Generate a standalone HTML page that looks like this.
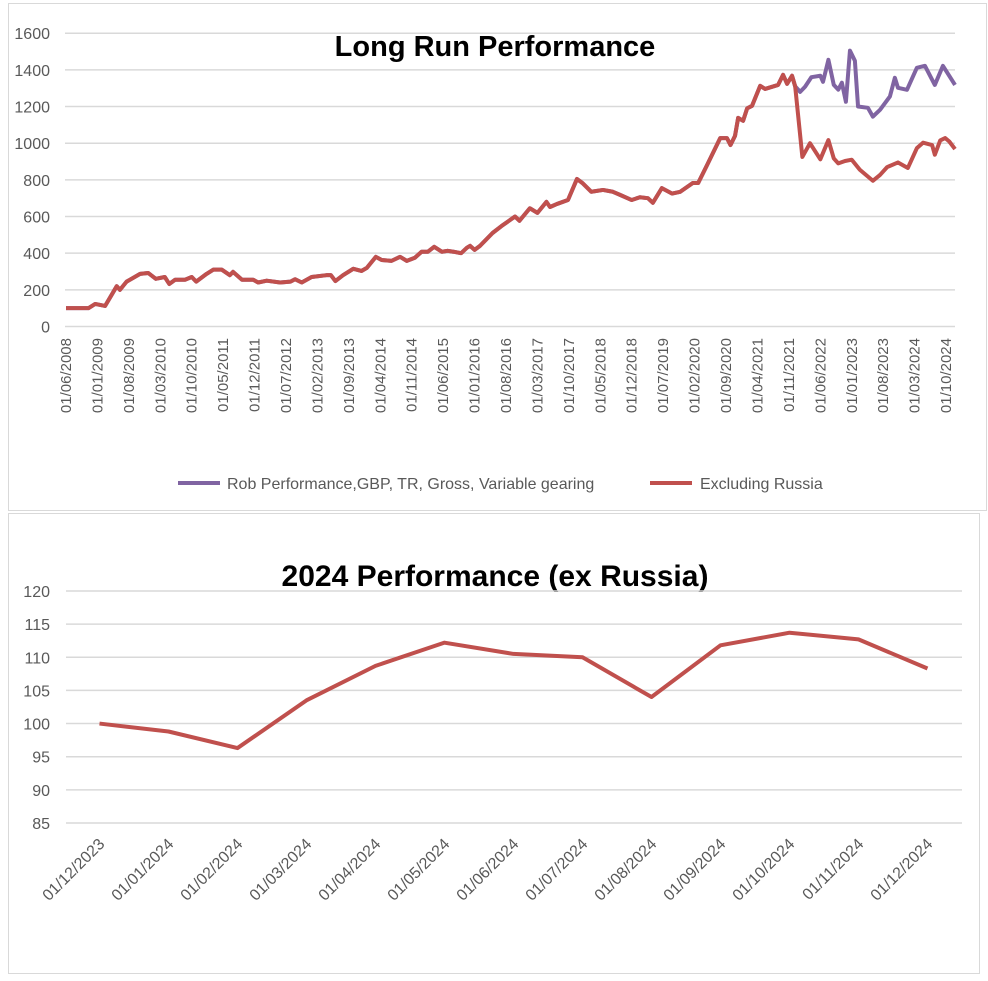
<!DOCTYPE html>
<html><head><meta charset="utf-8"><style>
body{margin:0;background:#fff;width:988px;height:981px;overflow:hidden;font-family:"Liberation Sans",sans-serif}
svg{position:absolute;left:0;top:0}
</style></head><body>
<svg id="c" width="988" height="981" xmlns="http://www.w3.org/2000/svg">
<rect x="8.5" y="3.5" width="978" height="507" fill="#fff" stroke="#d9d9d9"/>
<rect x="8.5" y="513.5" width="971" height="460" fill="#fff" stroke="#d9d9d9"/>
<text x="495" y="56" text-anchor="middle" font-size="29" font-weight="bold" fill="#000">Long Run Performance</text>
<text x="495" y="586" text-anchor="middle" font-size="30" font-weight="bold" fill="#000">2024 Performance (ex Russia)</text>
<g id="g1"></g><g id="g2"></g>
<line x1="178" y1="483" x2="220" y2="483" stroke="#8064a2" stroke-width="4"/>
<text x="227" y="489" font-size="16" fill="#595959">Rob Performance,GBP, TR, Gross, Variable gearing</text>
<line x1="650" y1="483" x2="692" y2="483" stroke="#c0504d" stroke-width="4"/>
<text x="700" y="489" font-size="16" fill="#595959">Excluding Russia</text>
</svg>
<script>
// Top chart data (month index from 01/06/2008)
const topTicks=[0,200,400,600,800,1000,1200,1400,1600];
const topLabels=["01/06/2008","01/01/2009","01/08/2009","01/03/2010","01/10/2010","01/05/2011","01/12/2011","01/07/2012","01/02/2013","01/09/2013","01/04/2014","01/11/2014","01/06/2015","01/01/2016","01/08/2016","01/03/2017","01/10/2017","01/05/2018","01/12/2018","01/07/2019","01/02/2020","01/09/2020","01/04/2021","01/11/2021","01/06/2022","01/01/2023","01/08/2023","01/03/2024","01/10/2024"];
const redMonths=[0,5,6.5,8.7,11.3,12,13.5,16.5,18.3,20,22,23,24.3,26.5,28,29,31.3,32.8,34.7,36.5,37.2,39.2,41.7,42.8,44.7,47.7,50,51,52.5,54.7,58,59,60,61.7,64,65.8,67,69,70.3,72.5,74.4,75.9,77.7,79.2,80.6,82,83.7,85,86.3,88,89.3,90,91,92.2,95,97,100,101,103.3,105,107,107.8,109.3,111.8,113.8,115,117,119.6,121.8,123.4,126,127.8,129.6,130.7,132.7,135,136.8,139.6,140.8,142.8,145.7,147.2,148,149,149.7,150.8,151.7,152.8,154.6,155.7,158.6,159.7,160.6,161.7,162.4,164,165.7,168,169.8,171,172,173.5,175,176.8,179.7,181.3,182.9,185.3,187.5,189.5,190.9,192.9,193.5,194.7,195.8,196.7,198];
const redValues=[100,100,123,112,220,200,245,287,292,260,270,232,255,255,270,245,287,310,310,280,298,255,255,240,250,240,245,258,240,270,280,280,248,280,315,303,320,380,363,358,380,358,375,408,408,435,408,413,408,400,430,440,418,440,510,548,600,577,645,620,680,652,668,690,805,783,735,745,735,718,690,705,700,675,755,725,735,783,783,882,1028,1028,990,1040,1138,1122,1190,1204,1313,1296,1318,1373,1324,1368,1310,925,1000,912,1017,917,890,903,910,855,795,827,870,895,865,973,1003,990,937,1015,1028,1010,968];
const purpleMonths=[162.4,163.5,164.6,166,168,168.6,169.8,171,172,172.8,173.7,174.6,175.7,176.4,178.6,179.7,181.3,183.5,184.6,185.3,187.3,189.5,191.3,193.5,195.3,198];
const purpleValues=[1310,1280,1308,1360,1368,1335,1455,1318,1292,1330,1226,1505,1450,1200,1193,1145,1182,1255,1357,1302,1291,1411,1422,1318,1422,1318];
// Bottom chart data
const botCats=["01/12/2023","01/01/2024","01/02/2024","01/03/2024","01/04/2024","01/05/2024","01/06/2024","01/07/2024","01/08/2024","01/09/2024","01/10/2024","01/11/2024","01/12/2024"];
const botValues=[100,98.8,96.3,103.5,108.7,112.2,110.5,110,104,111.8,113.7,112.7,108.3];
const botTicks=[85,90,95,100,105,110,115,120];

const NS="http://www.w3.org/2000/svg";
function mk(p,t,a){const e=document.createElementNS(NS,t);for(const k in a)e.setAttribute(k,a[k]);p.appendChild(e);return e;}
const g1=document.getElementById('g1'),g2=document.getElementById('g2');
const x1=m=>66+m*4.49, y1=v=>326.5-v*0.1833;
topTicks.forEach(t=>{
 const l=mk(g1,'line',{x1:65,x2:955,y1:y1(t),y2:y1(t),stroke:'#d9d9d9','stroke-width':1.5});
 
 
 const tx=mk(g1,'text',{x:50,y:y1(t)+6,'text-anchor':'end','font-size':16,fill:'#595959'});tx.textContent=t;
 
 
});
topLabels.forEach((s,i)=>{
 const x=x1(i*7)+5;
 const tx=mk(g1,'text',{x:x,y:338,'text-anchor':'end','font-size':15,fill:'#595959',transform:`rotate(-90 ${x} 338)`});tx.textContent=s;
 
 
});
const pm=redMonths.filter(m=>m<=162.4).concat(purpleMonths.slice(1));
const pv=redValues.slice(0,pm.length-purpleMonths.length+1).concat(purpleValues.slice(1));
const pp=mk(g1,'polyline',{points:pm.map((m,i)=>x1(m)+','+y1(pv[i])).join(' '),fill:'none',stroke:'#8064a2','stroke-width':4,'stroke-linejoin':'round'});


const rp=mk(g1,'polyline',{points:redMonths.map((m,i)=>x1(m)+','+y1(redValues[i])).join(' '),fill:'none',stroke:'#c0504d','stroke-width':4,'stroke-linejoin':'round'});


const x2=i=>99.5+i*69, y2=v=>823-(v-85)*6.63;
botTicks.forEach(t=>{
 const l=mk(g2,'line',{x1:66,x2:962,y1:y2(t),y2:y2(t),stroke:'#d9d9d9','stroke-width':1.5});
 
 
 const tx=mk(g2,'text',{x:50,y:y2(t)+6,'text-anchor':'end','font-size':16,fill:'#595959'});tx.textContent=t;
 
 
});
botCats.forEach((s,i)=>{
 const x=x2(i)+6,y=845;
 const tx=mk(g2,'text',{x:x,y:y,'text-anchor':'end','font-size':16,fill:'#595959',transform:`rotate(-45 ${x} ${y})`});tx.textContent=s;
 
 
});
const bp=mk(g2,'polyline',{points:botValues.map((v,i)=>x2(i)+','+y2(v)).join(' '),fill:'none',stroke:'#c0504d','stroke-width':4,'stroke-linejoin':'round'});


</script>
</body></html>
